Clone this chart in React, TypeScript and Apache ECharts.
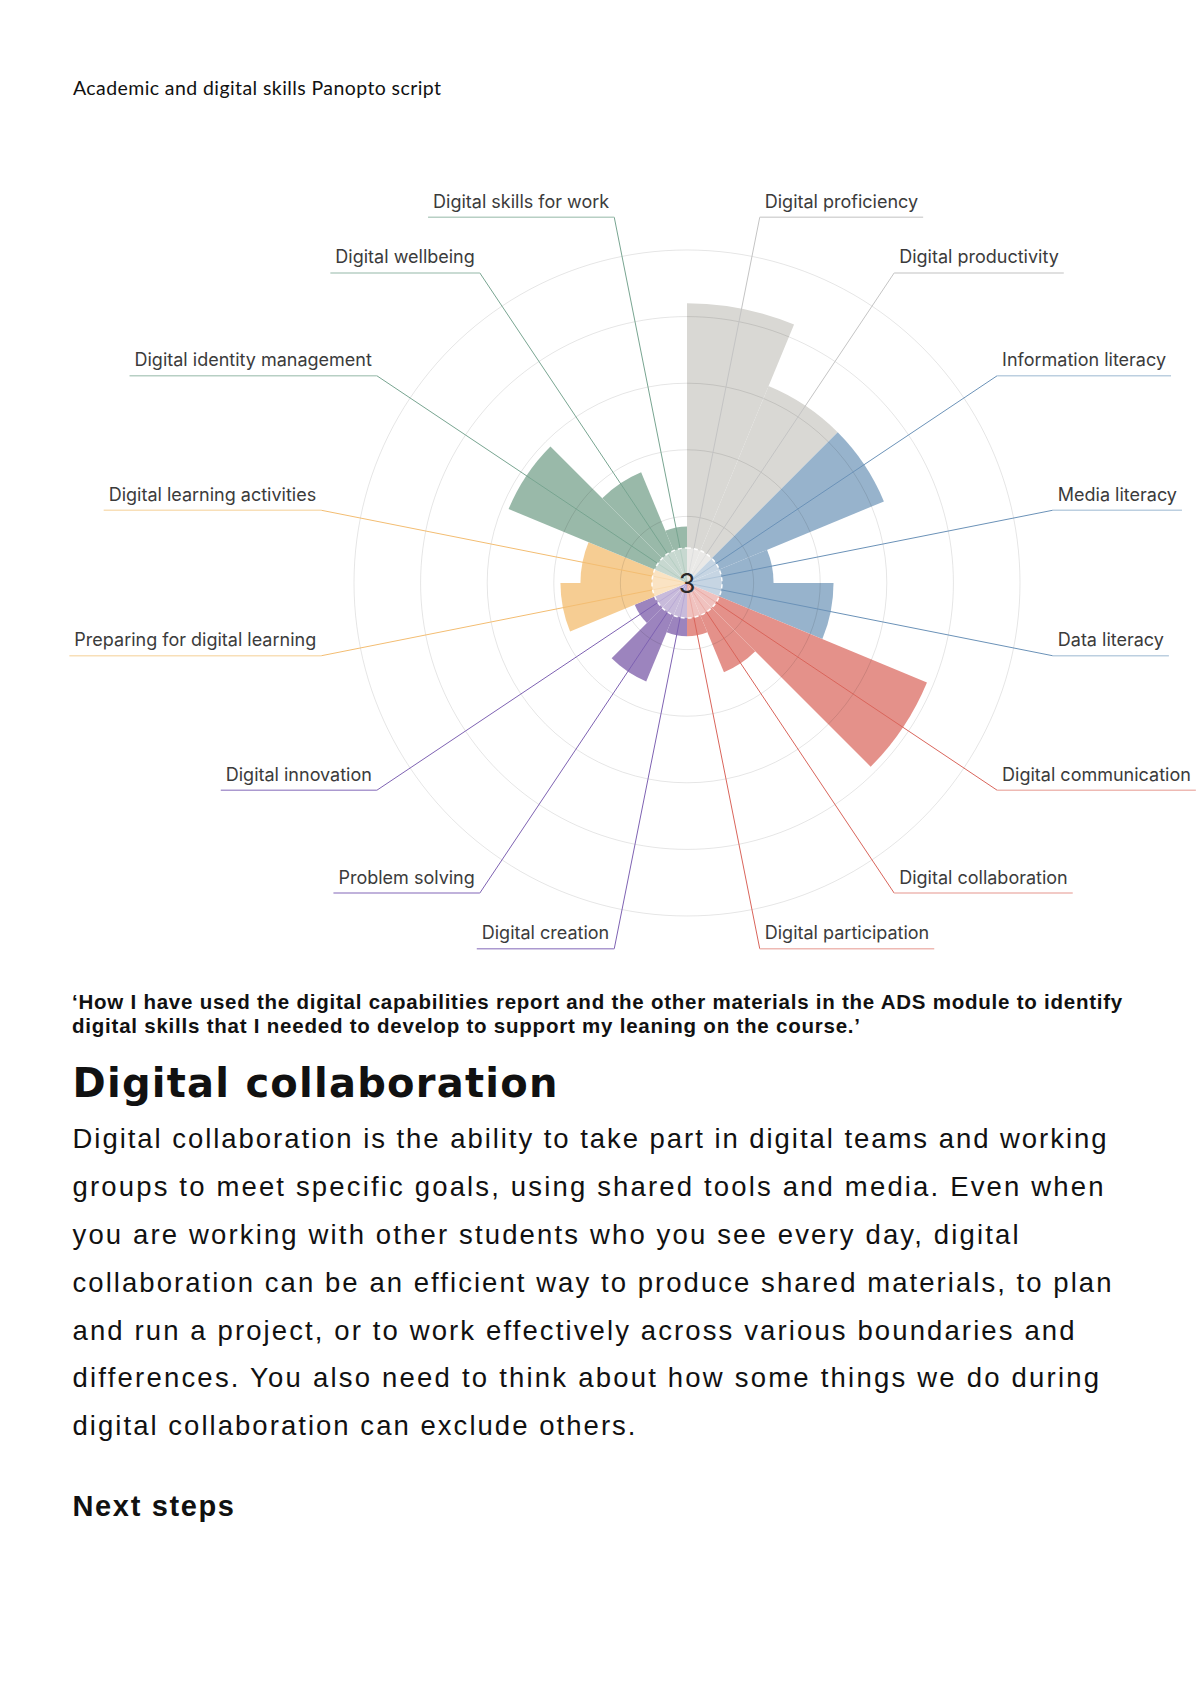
import React, { useEffect, useRef } from "react";
import * as echarts from "echarts";

// ---------- data ----------
const CATEGORIES = [
  "Digital proficiency",
  "Digital productivity",
  "Information literacy",
  "Media literacy",
  "Data literacy",
  "Digital communication",
  "Digital collaboration",
  "Digital participation",
  "Digital creation",
  "Problem solving",
  "Digital innovation",
  "Preparing for digital learning",
  "Digital learning activities",
  "Digital identity management",
  "Digital wellbeing",
  "Digital skills for work",
];
const GROUPS = [
  "proficiency", "proficiency",
  "information", "information", "information",
  "communication", "communication", "communication",
  "creation", "creation", "creation",
  "learning", "learning",
  "identity", "identity", "identity",
];
const SCORES = [84, 64, 64, 26, 44, 78, 29, 16, 16, 32, 17, 38, 32, 58, 36, 17];
const CENTER_SCORE = "3";

const HEADER = "Academic and digital skills Panopto script";
const QUOTE_LINES = [
  "\u2018How I have used the digital capabilities report and the other materials in the ADS module to identify",
  "digital skills that I needed to develop to support my leaning on the course.\u2019",
];
const HEADING = "Digital collaboration";
const PARAGRAPH_LINES = [
  "Digital collaboration is the ability to take part in digital teams and working",
  "groups to meet specific goals, using shared tools and media. Even when",
  "you are working with other students who you see every day, digital",
  "collaboration can be an efficient way to produce shared materials, to plan",
  "and run a project, or to work effectively across various boundaries and",
  "differences. You also need to think about how some things we do during",
  "digital collaboration can exclude others.",
];
const SUBHEADING = "Next steps";

// ---------- styles ----------
const BAR_COLORS: Record<string, string> = {
  proficiency: "#d9d8d4",
  information: "#97b3cc",
  communication: "#e4918a",
  creation: "#9c84be",
  learning: "#f6cd93",
  identity: "#99b9a9",
};
const LINE_COLORS: Record<string, string> = {
  proficiency: "#c4c4c4",
  information: "#6b92b8",
  communication: "#d9655b",
  creation: "#7e62b2",
  learning: "#f3bd72",
  identity: "#78a591",
};
const UNDERLINE_COLORS: Record<string, string> = {
  proficiency: "#d6d6d6",
  information: "#bccfe0",
  communication: "#eeb9b3",
  creation: "#ab99cf",
  learning: "#f8dfb8",
  identity: "#b7cfc4",
};

const CENTER: [number, number] = [687, 583];
const OUTER_R = 333;
const LABEL_R = 112; // radius value where leader lines bend
const LABEL_PAD = 5;
const LABEL_SIZE = 18;
const LABEL_FAMILY = "Inter";

let measureCtx: CanvasRenderingContext2D | null = null;
function measure(text: string, font: string) {
  if (!measureCtx) measureCtx = document.createElement("canvas").getContext("2d");
  measureCtx!.font = font;
  return measureCtx!.measureText(text);
}

type LineProps = {
  text: string;
  x: number;
  baseline: number;
  width: number;
  family: string;
  size: number;
  weight: number;
  color?: string;
};

function DocLine({ text, x, baseline, width, family, size, weight, color = "#111" }: LineProps) {
  const m = measure(text, `${weight} ${size}px ${family}`);
  const natural = m.width;
  const ls = text.length > 1 ? (width - natural) / (text.length - 1) : 0;
  const asc = (m as any).fontBoundingBoxAscent ?? size * 0.9;
  const desc = (m as any).fontBoundingBoxDescent ?? size * 0.22;
  const lh = Math.ceil(size * 1.4);
  const top = baseline - ((lh - (asc + desc)) / 2 + asc);
  return (
    <div
      style={{
        position: "absolute",
        left: x,
        top,
        whiteSpace: "pre",
        fontFamily: family,
        fontSize: size,
        fontWeight: weight,
        lineHeight: lh + "px",
        letterSpacing: ls + "px",
        color,
      }}
    >
      {text}
    </div>
  );
}

function Chart() {
  const ref = useRef<HTMLDivElement>(null);
  useEffect(() => {
    if (!ref.current) return;
    const chart = echarts.init(ref.current, null, { renderer: "svg" });
    const labelFont = `400 ${LABEL_SIZE}px ${LABEL_FAMILY}`;
    chart.setOption({
      animation: false,
      polar: { center: CENTER, radius: OUTER_R },
      angleAxis: {
        type: "category",
        data: CATEGORIES,
        startAngle: 90,
        clockwise: true,
        boundaryGap: true,
        axisLine: { show: false },
        axisTick: { show: false },
        axisLabel: { show: false },
        splitLine: { show: false },
      },
      radiusAxis: {
        type: "value",
        min: 0,
        max: 100,
        interval: 20,
        z: 3,
        axisLine: { show: false },
        axisTick: { show: false },
        axisLabel: { show: false },
        splitLine: { show: true, lineStyle: { color: "rgba(0,0,0,0.1)", width: 1 } },
      },
      series: [
        {
          type: "bar",
          coordinateSystem: "polar",
          silent: true,
          barCategoryGap: "0%",
          z: 2,
          data: SCORES.map((v, i) => ({ value: v, itemStyle: { color: BAR_COLORS[GROUPS[i]] } })),
        },
        {
          type: "custom",
          coordinateSystem: "polar",
          silent: true,
          z: 4,
          data: CATEGORIES.map((_, i) => [LABEL_R, i]),
          renderItem: (params: any, api: any) => {
            const i = params.dataIndex;
            const c = api.coord([0, i]);
            const e = api.coord([api.value(0), i]);
            const name = CATEGORIES[i];
            const g = GROUPS[i];
            const w = measure(name, labelFont).width;
            const right = e[0] >= c[0];
            const endX = right ? e[0] + w + 2 * LABEL_PAD : e[0] - w - 2 * LABEL_PAD;
            return {
              type: "group",
              children: [
                {
                  type: "line",
                  shape: { x1: c[0], y1: c[1], x2: e[0], y2: e[1] },
                  style: { stroke: LINE_COLORS[g], lineWidth: 1 },
                },
                {
                  type: "line",
                  shape: { x1: e[0], y1: e[1], x2: endX, y2: e[1] },
                  style: { stroke: UNDERLINE_COLORS[g], lineWidth: 1.5 },
                },
                {
                  type: "text",
                  x: right ? e[0] + LABEL_PAD : e[0] - LABEL_PAD,
                  y: e[1] - 16,
                  style: {
                    text: name,
                    fill: "#3b3b3b",
                    fontSize: LABEL_SIZE,
                    fontFamily: LABEL_FAMILY,
                    fontWeight: 400,
                    align: right ? "left" : "right",
                    verticalAlign: "middle",
                  },
                },
              ],
            };
          },
        },
        {
          type: "pie",
          silent: true,
          z: 6,
          center: CENTER,
          radius: [0, 35],
          startAngle: 90,
          data: [{ value: 1, name: "score" }],
          itemStyle: {
            color: "rgba(255,255,255,0.45)",
            borderColor: "rgba(255,255,255,0.95)",
            borderWidth: 1.5,
            borderType: [4, 3],
          },
          label: {
            show: true,
            position: "center",
            formatter: CENTER_SCORE,
            fontSize: 27,
            fontFamily: "Inter",
            fontWeight: 400,
            color: "#2a2a2a",
          },
          labelLine: { show: false },
        },
      ],
    });
    return () => chart.dispose();
  }, []);
  return (
    <div
      ref={ref}
      style={{ position: "absolute", left: 0, top: 0, width: 1200, height: 970 }}
    />
  );
}

const ARIAL = "'Liberation Sans', Arial, sans-serif";
const PARA_WIDTHS = [1034, 1031, 946, 1039, 1002, 1027, 563];

export default function App() {
  return (
    <div
      style={{
        position: "absolute",
        left: 0,
        top: 0,
        width: 1200,
        height: 1696,
        overflow: "hidden",
        background: "#fff",
      }}
    >
      <Chart />
      <DocLine text={HEADER} x={73} baseline={95} width={368} family="Lato" size={19.5} weight={400} />
      <DocLine text={QUOTE_LINES[0]} x={72} baseline={1009} width={1051} family={ARIAL} size={20.5} weight={700} />
      <DocLine text={QUOTE_LINES[1]} x={72} baseline={1033} width={788} family={ARIAL} size={20.5} weight={700} />
      <DocLine text={HEADING} x={72.5} baseline={1097} width={485} family="'DejaVu Sans'" size={40} weight={700} />
      {PARAGRAPH_LINES.map((t, k) => (
        <DocLine
          key={k}
          text={t}
          x={72.5}
          baseline={1148.3 + k * 47.8}
          width={PARA_WIDTHS[k]}
          family={ARIAL}
          size={27.5}
          weight={400}
        />
      ))}
      <DocLine text={SUBHEADING} x={72.5} baseline={1516.7} width={161.5} family={ARIAL} size={29} weight={700} />
    </div>
  );
}
